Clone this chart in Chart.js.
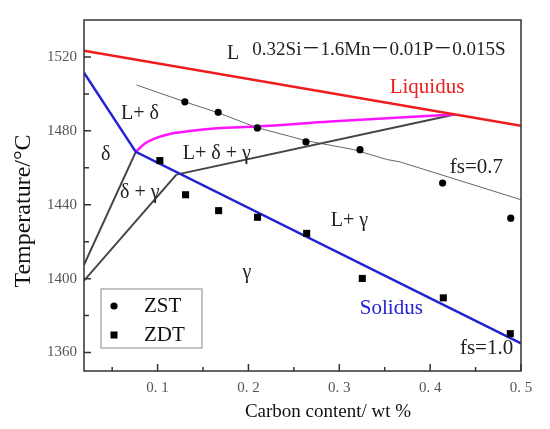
<!DOCTYPE html>
<html>
<head>
<meta charset="utf-8">
<script src="https://cdn.jsdelivr.net/npm/chart.js@4.4.1/dist/chart.umd.min.js"></script>
<style>
  body { margin: 0; background: #fff; }
  #wrap { width: 550px; height: 429px; position: relative; }
</style>
</head>
<body>
<div id="wrap"><canvas id="phase"></canvas></div>
<script>
// tick values
const xTicks = [0.1, 0.2, 0.3, 0.4, 0.5];
const xMinor = [0.05, 0.15, 0.25, 0.35, 0.45];
const yTicks = [1360, 1400, 1440, 1480, 1520];
const yMinor = [1380, 1420, 1460, 1500];

// phase boundaries (wt% C, deg C)
const liquidusC = [0.019, 0.5];
const liquidusT = [1523.3, 1482.7];
const solidusC = [0.019, 0.076, 0.5];
const solidusT = [1511.5, 1468.6, 1364.9];
const deltaLC = [0.076, 0.086, 0.097, 0.112, 0.1375, 0.165, 0.209, 0.29, 0.427];
const deltaLT = [1468.6, 1473.1, 1475.9, 1478.2, 1480.0, 1481.4, 1482.3, 1485.0, 1488.9];
const periC = [0.1207, 0.427];
const periT = [1456.3, 1488.9];
const deltaAC = [0.019, 0.076];
const deltaAT = [1407.5, 1468.6];
const gammaBC = [0.019, 0.1207];
const gammaBT = [1398.9, 1456.3];
const fs07C = [0.0769, 0.1301, 0.1667, 0.209, 0.2641, 0.3154, 0.3522, 0.3668, 0.5];
const fs07T = [1504.8, 1495.7, 1489.8, 1481.8, 1474.6, 1469.9, 1464.5, 1463.2, 1442.7];

// measured points
const zstC = [0.130, 0.1667, 0.2098, 0.2633, 0.3228, 0.4137, 0.4887];
const zstT = [1495.7, 1490.0, 1481.6, 1474.0, 1469.8, 1451.7, 1432.7];
const zdtC = [0.1025, 0.1308, 0.1672, 0.210, 0.2641, 0.3253, 0.4145, 0.4882];
const zdtT = [1463.9, 1445.4, 1436.8, 1433.2, 1424.5, 1400.1, 1389.6, 1370.2];

const RED = '#ee1c1c', BLUE = '#2222d4', SERIF = "'Liberation Serif', 'Noto Sans CJK SC', serif";

// region / curve labels, positioned in data units
const notes = [
    { t: 'L', x: 0.1831, y: 1522, s: 20 },
    { t: '0.32Si－1.6Mn－0.01P－0.015S', x: 0.3437, y: 1523.8, s: 19 },
    { t: 'Liquidus', x: 0.3965, y: 1503.3, s: 21, c: RED },
    { t: 'L+ δ', x: 0.0805, y: 1489.4, s: 20 },
    { t: 'δ', x: 0.043, y: 1466.8, s: 20 },
    { t: 'L+ δ + γ', x: 0.1651, y: 1467.7, s: 20 },
    { t: 'δ + γ', x: 0.0805, y: 1446.7, s: 20 },
    { t: 'fs=0.7', x: 0.451, y: 1460.4, s: 21 },
    { t: 'L+ γ', x: 0.3111, y: 1431.1, s: 20 },
    { t: 'γ', x: 0.1982, y: 1403.4, s: 20 },
    { t: 'Solidus', x: 0.3573, y: 1383.6, s: 21, c: BLUE },
    { t: 'fs=1.0', x: 0.4621, y: 1362.3, s: 21 }
];

function pts(cs, ts) {
    return cs.map(function (c, i) { return { x: c, y: ts[i] }; });
}

function line(data, color, width, extra) {
    return Object.assign({
        data: data, showLine: true, borderColor: color, borderWidth: width,
        pointRadius: 0, fill: false, order: 1
    }, extra || {});
}

// frame, inward ticks, labels, legend, axis titles
const decor = {
    id: 'decor',
    afterDatasetsDraw: function (chart) {
        const ctx = chart.ctx, a = chart.chartArea;
        const xs = chart.scales.x, ys = chart.scales.y;
        ctx.save();
        ctx.strokeStyle = '#333';
        ctx.lineWidth = 1.5;
        ctx.strokeRect(a.left, a.top, a.right - a.left, a.bottom - a.top);
        ctx.beginPath();
        xTicks.forEach(function (v) { const p = xs.getPixelForValue(v); ctx.moveTo(p, a.bottom); ctx.lineTo(p, a.bottom - 7); });
        xMinor.forEach(function (v) { const p = xs.getPixelForValue(v); ctx.moveTo(p, a.bottom); ctx.lineTo(p, a.bottom - 4); });
        yTicks.forEach(function (v) { const p = ys.getPixelForValue(v); ctx.moveTo(a.left, p); ctx.lineTo(a.left + 7, p); });
        yMinor.forEach(function (v) { const p = ys.getPixelForValue(v); ctx.moveTo(a.left, p); ctx.lineTo(a.left + 5, p); });
        ctx.stroke();

        ctx.textAlign = 'center';
        ctx.textBaseline = 'middle';
        notes.forEach(function (n) {
            ctx.fillStyle = n.c || '#222';
            ctx.font = n.s + 'px ' + SERIF;
            ctx.fillText(n.t, xs.getPixelForValue(n.x), ys.getPixelForValue(n.y));
        });

        // legend box
        const lx = a.left + 17, ly = a.bottom - 82;
        ctx.strokeStyle = '#888';
        ctx.lineWidth = 1;
        ctx.strokeRect(lx, ly, 101, 59);
        ctx.fillStyle = '#000';
        ctx.beginPath();
        ctx.arc(lx + 13, ly + 17, 3.6, 0, Math.PI * 2);
        ctx.fill();
        ctx.fillRect(lx + 9.5, ly + 42.5, 7, 7);
        ctx.textAlign = 'left';
        ctx.font = '21px ' + SERIF;
        ctx.fillStyle = '#111';
        ctx.fillText('ZST', lx + 43, ly + 17);
        ctx.fillText('ZDT', lx + 43, ly + 46);

        // axis titles
        ctx.textAlign = 'center';
        ctx.font = '19px ' + SERIF;
        ctx.fillText('Carbon content/ wt %', 328, 412);
        ctx.translate(24, 211);
        ctx.rotate(-Math.PI / 2);
        ctx.font = '24px ' + SERIF;
        ctx.fillText('Temperature/°C', 0, 0);
        ctx.restore();
    }
};

new Chart(document.getElementById('phase'), {
    type: 'scatter',
    data: {
        datasets: [
            { data: pts(zstC, zstT), pointStyle: 'circle', pointRadius: 3.6, backgroundColor: '#000', borderWidth: 0, order: 0 },
            { data: pts(zdtC, zdtT), pointStyle: 'rect', pointRadius: 5, backgroundColor: '#000', borderWidth: 0, order: 0 },
            line(pts(liquidusC, liquidusT), RED, 2.5),
            line(pts(solidusC, solidusT), BLUE, 2.5),
            line(pts(deltaLC, deltaLT), '#ff14ff', 2.5, { cubicInterpolationMode: 'monotone' }),
            line(pts(periC, periT), '#444', 2),
            line(pts(deltaAC, deltaAT), '#444', 2),
            line(pts(gammaBC, gammaBT), '#444', 2),
            line(pts(fs07C, fs07T), '#666', 1)
        ]
    },
    options: {
        responsive: true,
        maintainAspectRatio: false,
        animation: false,
        layout: { padding: { top: 20, right: 29, left: 0, bottom: 0 } },
        plugins: { legend: { display: false }, tooltip: { enabled: false } },
        scales: {
            x: {
                type: 'linear', min: 0.019, max: 0.5,
                grid: { display: false, drawTicks: false }, border: { display: false },
                afterBuildTicks: function (s) { s.ticks = xTicks.map(function (v) { return { value: v }; }); },
                afterFit: function (s) { s.height = 58; },
                ticks: {
                    autoSkip: false, maxRotation: 0, padding: 8, color: '#555',
                    font: { family: SERIF, size: 15 },
                    callback: function (v) { return v.toFixed(1).replace('.', '. '); }
                }
            },
            y: {
                type: 'linear', min: 1350, max: 1540,
                grid: { display: false, drawTicks: false }, border: { display: false },
                afterBuildTicks: function (s) { s.ticks = yTicks.map(function (v) { return { value: v }; }); },
                afterFit: function (s) { s.width = 84; },
                ticks: {
                    autoSkip: false, padding: 7, color: '#555',
                    font: { family: SERIF, size: 15 },
                    callback: function (v) { return String(v); }
                }
            }
        }
    },
    plugins: [decor]
});
</script>
</body>
</html>
